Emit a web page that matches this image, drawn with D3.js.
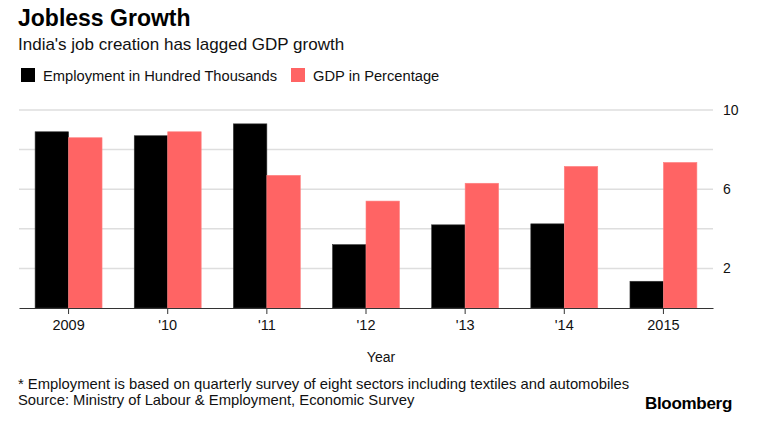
<!DOCTYPE html>
<html>
<head>
<meta charset="utf-8">
<script src="https://cdnjs.cloudflare.com/ajax/libs/d3/7.8.5/d3.min.js"></script>
<style>
  body { margin: 0; background: #fff; }
  svg { display: block; font-family: "Liberation Sans", Arial, Helvetica, sans-serif; }
</style>
</head>
<body>
<div id="myPlot"></div>
<script>
// chart data
var years = ["2009", "'10", "'11", "'12", "'13", "'14", "2015"];
var employment = [8.9, 8.7, 9.3, 3.2, 4.2, 4.25, 1.35];
var gdp = [8.6, 8.9, 6.7, 5.4, 6.3, 7.15, 7.35];
var seriesNames = ["Employment in Hundred Thousands", "GDP in Percentage"];
var seriesColors = ["#000000", "#ff6464"];
var yLabelTicks = [2, 6, 10];

var svgWidth = 759;
var svgHeight = 422;

// plot area
var margin = { top: 110, right: 46, bottom: 114, left: 19 };
var innerWidth = svgWidth - margin.left - margin.right;
var innerHeight = svgHeight - margin.top - margin.bottom;

var svg = d3.select("#myPlot")
    .append("svg")
    .attr("width", svgWidth)
    .attr("height", svgHeight);

// title + subtitle
svg.append("text")
    .attr("x", 18)
    .attr("y", 26)
    .style("font-size", "23px")
    .style("font-weight", "bold")
    .text("Jobless Growth");

svg.append("text")
    .attr("x", 18)
    .attr("y", 50)
    .style("font-size", "17px")
    .attr("fill", "#111")
    .text("India's job creation has lagged GDP growth");

// legend
var legendX = [21, 291];
seriesNames.forEach(function (name, i) {
    svg.append("rect")
        .attr("x", legendX[i])
        .attr("y", 68)
        .attr("width", 14)
        .attr("height", 14)
        .attr("fill", seriesColors[i]);
    svg.append("text")
        .attr("x", legendX[i] + 22)
        .attr("y", 81)
        .style("font-size", "14.7px")
        .attr("fill", "#111")
        .text(name);
});

var g = svg.append("g")
    .attr("transform", `translate(${margin.left}, ${margin.top})`);

// scales
var xScale = d3.scaleBand()
    .domain(years)
    .range([0, innerWidth])
    .paddingInner(0.325)
    .paddingOuter(0.1625);

var xSub = d3.scaleBand()
    .domain([0, 1])
    .range([0, xScale.bandwidth()]);

var yScale = d3.scaleLinear()
    .domain([0, 10])
    .range([innerHeight, 0]);

// gridlines
g.selectAll(".grid")
    .data(yScale.ticks(5).filter(d => d > 0))
    .enter().append("line")
    .attr("class", "grid")
    .attr("x1", 0)
    .attr("x2", innerWidth)
    .attr("y1", d => yScale(d))
    .attr("y2", d => yScale(d))
    .attr("stroke", "#dedede")
    .attr("stroke-width", 1.5);

// right axis labels
g.selectAll(".ylab")
    .data(yLabelTicks)
    .enter().append("text")
    .attr("class", "ylab")
    .attr("x", innerWidth + 10)
    .attr("y", d => yScale(d))
    .attr("dy", "0.35em")
    .style("font-size", "14px")
    .attr("fill", "#111")
    .text(d => d);

// bars
var rows = years.map(function (y, i) {
    return { year: y, values: [employment[i], gdp[i]] };
});

var groups = g.selectAll(".year")
    .data(rows)
    .enter().append("g")
    .attr("class", "year")
    .attr("transform", d => `translate(${xScale(d.year)}, 0)`);

groups.selectAll("rect")
    .data(d => d.values)
    .enter().append("rect")
    .attr("x", (d, i) => xSub(i))
    .attr("y", d => yScale(d))
    .attr("width", xSub.bandwidth())
    .attr("height", d => innerHeight - yScale(d))
    .attr("fill", (d, i) => seriesColors[i])
    .attr("stroke", (d, i) => i == 0 ? "#333" : "#ff8080")
    .attr("stroke-width", 0.6);

// x axis
var xAxis = d3.axisBottom(xScale).tickSize(6).tickPadding(6).tickSizeOuter(0);
var xg = g.append("g")
    .attr("transform", `translate(0, ${innerHeight})`)
    .call(xAxis);
xg.select(".domain").attr("stroke", "#333").attr("stroke-width", 1.2);
xg.selectAll(".tick line").attr("stroke", "#333");
xg.selectAll(".tick text")
    .style("font-size", "14.5px")
    .style("font-family", "'Liberation Sans', Arial, sans-serif")
    .attr("fill", "#111");

svg.append("text")
    .attr("x", 381)
    .attr("y", 362)
    .attr("text-anchor", "middle")
    .style("font-size", "14px")
    .attr("fill", "#111")
    .text("Year");

// footnotes
svg.append("text")
    .attr("x", 18)
    .attr("y", 389)
    .style("font-size", "14.8px")
    .attr("fill", "#111")
    .text("* Employment is based on quarterly survey of eight sectors including textiles and automobiles");

svg.append("text")
    .attr("x", 18)
    .attr("y", 405)
    .style("font-size", "14.8px")
    .attr("fill", "#111")
    .text("Source: Ministry of Labour & Employment, Economic Survey");

svg.append("text")
    .attr("x", 732)
    .attr("y", 409)
    .attr("text-anchor", "end")
    .style("font-size", "17px")
    .style("font-weight", "bold")
    .style("letter-spacing", "-0.3px")
    .text("Bloomberg");
</script>
</body>
</html>
